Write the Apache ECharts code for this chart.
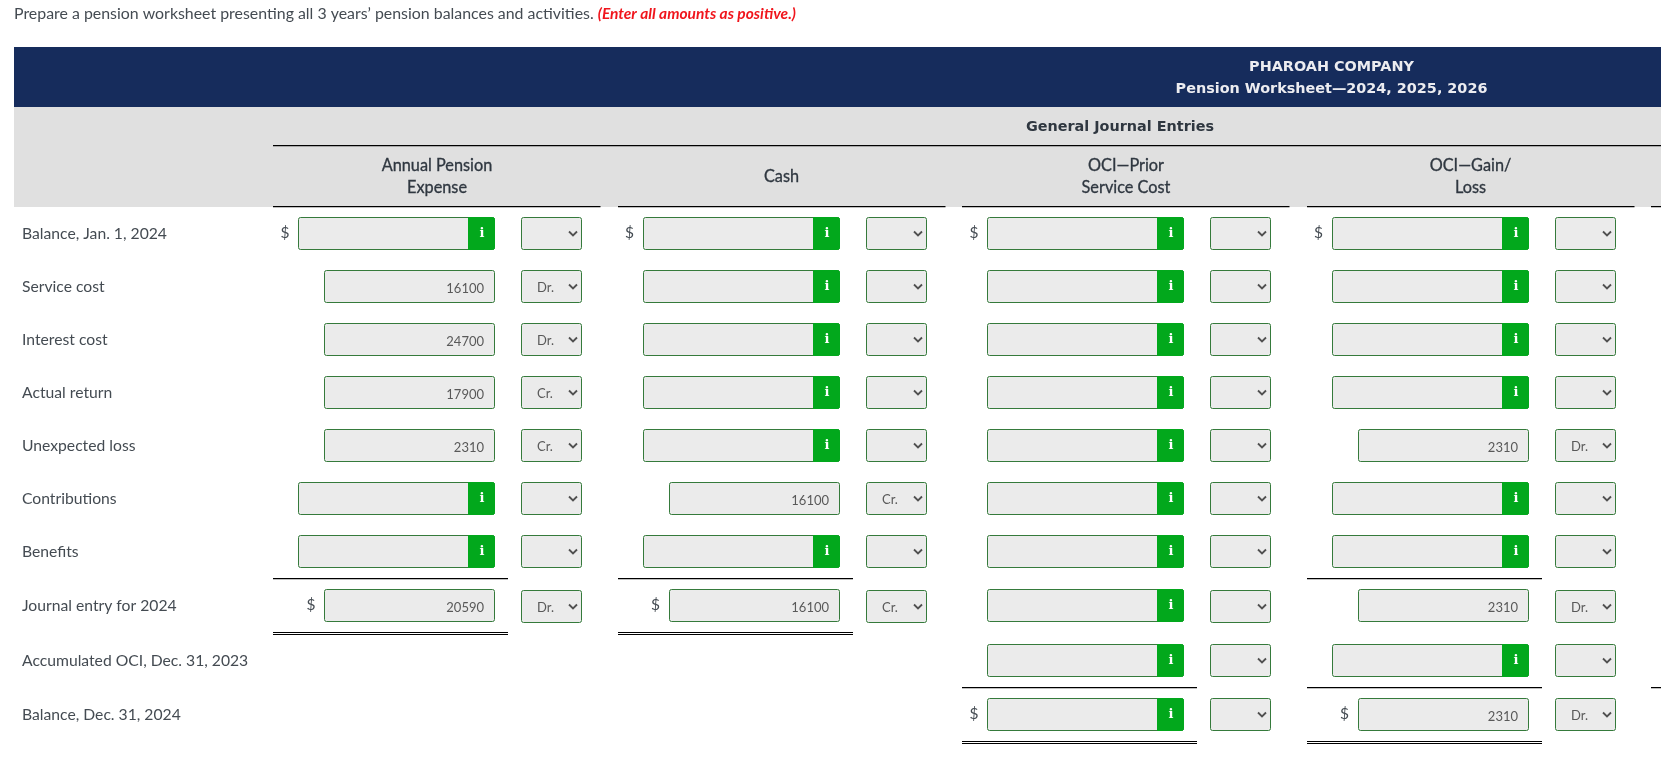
<!DOCTYPE html>
<html lang="en">

<head>
  <meta charset="UTF-8">
  <title>Pension Worksheet</title>
  <script src="https://cdn.jsdelivr.net/npm/echarts@6/dist/echarts.min.js"></script>
  <style>
    html, body { margin: 0; padding: 0; background: #fff; }
    #main { width: 1661px; height: 760px; }
  </style>
</head>

<body>

  <div id="main"></div>

  <script>
    // worksheet content
    var NA = '-' // no box at all in that cell
    var rowNames = ['Balance, Jan. 1, 2024', 'Service cost', 'Interest cost', 'Actual return', 'Unexpected loss',
      'Contributions', 'Benefits', 'Journal entry for 2024', 'Accumulated OCI, Dec. 31, 2023', 'Balance, Dec. 31, 2024']
    var columnNames = ['Annual Pension\nExpense', 'Cash', 'OCI\u2014Prior\nService Cost', 'OCI\u2014Gain/\nLoss']

    var expenseValues = [null, 16100, 24700, 17900, 2310, null, null, 20590, NA, NA]
    var expenseSides = ['', 'Dr.', 'Dr.', 'Cr.', 'Cr.', '', '', 'Dr.', NA, NA]
    var cashValues = [null, null, null, null, null, 16100, null, 16100, NA, NA]
    var cashSides = ['', '', '', '', '', 'Cr.', '', 'Cr.', NA, NA]
    var priorValues = [null, null, null, null, null, null, null, null, null, null]
    var priorSides = ['', '', '', '', '', '', '', '', '', '']
    var gainValues = [null, null, null, null, 2310, null, null, 2310, null, 2310]
    var gainSides = ['', '', '', '', 'Dr.', '', '', 'Dr.', '', 'Dr.']

    // [column, row]
    var dollarCells = [[0, 0], [1, 0], [2, 0], [3, 0], [0, 7], [1, 7], [2, 9], [3, 9]]
    var singleRules = [[0, 6], [1, 6], [3, 6], [2, 8], [3, 8], [4, 8]]
    var doubleRules = [[0, 7], [1, 7], [2, 9], [3, 9]]

    // layout on the axes, the axes run 1:1 with the page
    var rowCenters = [233.5, 286.5, 339.5, 392.5, 445.5, 498.5, 551.5, 605.5, 660.5, 714.5]
    var columnLefts = [265, 609.5, 954, 1298.5, 1643]
    var headerCenters = [437, 781.5, 1126, 1470.5]

    var textFont = 'Lato'
    var boldFont = 'DejaVu Sans'
    var boxBorder = '#357a3b'
    var boxFill = '#ebebeb'
    var green = '#02a81c'

    var allValues = [expenseValues, cashValues, priorValues, gainValues]
    var allSides = [expenseSides, cashSides, priorSides, gainSides]

    var cells = []
    allValues.forEach(function (values, col) {
      values.forEach(function (value, row) {
        if (value !== NA) cells.push({ col: col, row: row, value: value, side: allSides[col][row] })
      })
    })

    // crisp 1px borders
    function snap(v) {
      return Math.floor(v) + 0.5
    }

    function renderCell(params, api) {
      var cell = cells[params.dataIndex]
      var p = api.coord([columnLefts[cell.col], rowCenters[cell.row]])
      var empty = cell.value === null
      var left = snap(p[0] + (empty ? 33.5 : 59.5))
      var right = snap(p[0] + 229.5)
      var top = snap(p[1] - 16)
      var h = 32
      var selLeft = snap(p[0] + 256.5)
      var selTop = cell.row === 7 ? top + 1 : top
      var chevX = selLeft + 51.5
      var chevY = selTop + 16
      var kids = [{
        type: 'rect',
        shape: { x: left, y: top, width: right - left, height: h, r: 2 },
        style: { fill: boxFill, stroke: boxBorder, lineWidth: 1 }
      }]
      if (empty) {
        kids.push({
          type: 'rect',
          shape: { x: right - 26, y: top, width: 26, height: h, r: [0, 2, 2, 0] },
          style: { fill: green, stroke: green, lineWidth: 1 }
        }, {
          type: 'text',
          style: { text: 'i', x: right - 12.5, y: p[1], align: 'center', verticalAlign: 'middle', fill: '#fff', font: 'bold 13px "DejaVu Serif"' }
        })
      } else {
        kids.push({
          type: 'text',
          style: { text: String(cell.value), x: right - 10.5, y: p[1] + 2, align: 'right', verticalAlign: 'middle', fill: '#595959', font: '13px ' + textFont }
        })
      }
      kids.push({
        type: 'rect',
        shape: { x: selLeft, y: selTop, width: 60, height: h, r: 2 },
        style: { fill: boxFill, stroke: boxBorder, lineWidth: 1 }
      }, {
        type: 'polyline',
        shape: { points: [[chevX - 4, chevY - 2], [chevX, chevY + 2], [chevX + 4, chevY - 2]] },
        style: { fill: 'none', stroke: '#505050', lineWidth: 1.8 }
      })
      if (cell.side) {
        kids.push({
          type: 'text',
          style: { text: cell.side, x: selLeft + 15.5, y: selTop + 17.5, align: 'left', verticalAlign: 'middle', fill: '#595959', font: '13px ' + textFont }
        })
      }
      return { type: 'group', children: kids }
    }

    function renderDollar(params, api) {
      var c = dollarCells[params.dataIndex]
      var filled = allValues[c[0]][c[1]] !== null
      var p = api.coord([columnLefts[c[0]], rowCenters[c[1]]])
      return {
        type: 'text',
        style: { text: '$', x: p[0] + (filled ? 46 : 20), y: p[1] - 1, align: 'center', verticalAlign: 'middle', fill: '#444b52', font: '15.5px ' + textFont }
      }
    }

    function ruleLine(x, y, width, height) {
      return { type: 'rect', shape: { x: Math.round(x), y: Math.round(y), width: width, height: height || 1 }, style: { fill: '#000' } }
    }

    function renderRule(params, api) {
      var c = singleRules[params.dataIndex]
      var p = api.coord([columnLefts[c[0]], rowCenters[c[1]]])
      return ruleLine(p[0] + 8, p[1] + 26.5, 235, 1.3)
    }

    function renderDouble(params, api) {
      var c = doubleRules[params.dataIndex]
      var p = api.coord([columnLefts[c[0]], rowCenters[c[1]]])
      return { type: 'group', children: [ruleLine(p[0] + 8, p[1] + 26.5, 235), ruleLine(p[0] + 8, p[1] + 28.5, 235)] }
    }

    function renderHeadRule(params, api) {
      var p = api.coord([columnLefts[params.dataIndex], 206])
      return ruleLine(p[0] + 8, p[1], 327.5, 1.3)
    }

    var myChart = echarts.init(document.getElementById('main'))

    myChart.setOption({
      animation: false,
      backgroundColor: '#fff',
      title: [
        {
          left: 14, top: 6, padding: 0,
          text: '{a|Prepare a pension worksheet presenting all 3 years\u2019 pension balances and activities. }{b|(Enter all amounts as positive.)}',
          textStyle: {
            rich: {
              a: { fontFamily: textFont, fontSize: 15.9, color: '#444b52', fontWeight: 'normal' },
              b: { fontFamily: textFont, fontSize: 15.5, color: '#f0151c', fontWeight: 'bold', fontStyle: 'italic' }
            }
          }
        },
        { left: 1331.5, top: 60, padding: 0, textAlign: 'center', text: 'PHAROAH COMPANY', textStyle: { fontFamily: boldFont, fontSize: 14.4, fontWeight: 'bold', color: '#ececf0' } },
        { left: 1331.5, top: 82, padding: 0, textAlign: 'center', text: 'Pension Worksheet\u20142024, 2025, 2026', textStyle: { fontFamily: boldFont, fontSize: 14.4, fontWeight: 'bold', color: '#ececf0' } },
        { left: 1120, top: 120, padding: 0, textAlign: 'center', text: 'General Journal Entries', textStyle: { fontFamily: boldFont, fontSize: 14.4, fontWeight: 'bold', color: '#2f3740' } }
      ],
      graphic: [
        { type: 'rect', z: -10, shape: { x: 14, y: 47, width: 1647, height: 60 }, style: { fill: '#162c5c' } },
        { type: 'rect', z: -10, shape: { x: 14, y: 107, width: 1647, height: 100 }, style: { fill: '#e0e0e0' } },
        { type: 'rect', z: -9, shape: { x: 273, y: 145, width: 1388, height: 1.3 }, style: { fill: '#000' } }
      ],
      grid: { left: 0, top: 206, width: 1661, height: 554 },
      xAxis: {
        type: 'value', position: 'top', min: 0, max: 1661, z: 10,
        axisLine: { show: false }, axisTick: { show: false }, splitLine: { show: false },
        axisLabel: {
          customValues: headerCenters,
          margin: 8,
          fontFamily: textFont, fontSize: 16.3, lineHeight: 21.5, color: '#2f3740',
          textBorderColor: '#2f3740', textBorderWidth: 0.3,
          rich: {
            one: { fontFamily: textFont, fontSize: 16.3, lineHeight: 43, color: '#2f3740', textBorderColor: '#2f3740', textBorderWidth: 0.3 }
          },
          formatter: function (v) {
            var name = columnNames[headerCenters.indexOf(v)]
            return name.indexOf('\n') < 0 ? '{one|' + name + '}' : name
          }
        }
      },
      yAxis: {
        type: 'value', inverse: true, min: 206, max: 760, z: 10,
        axisLine: { show: false }, axisTick: { show: false }, splitLine: { show: false },
        axisLabel: {
          customValues: rowCenters,
          inside: true, margin: 22, align: 'left', padding: [5, 0, 0, 0],
          fontFamily: textFont, fontSize: 15.7, color: '#444b52',
          formatter: function (v) { return rowNames[rowCenters.indexOf(v)] }
        }
      },
      series: [
        { type: 'custom', name: 'cells', clip: false, silent: true, data: cells.map(function (c) { return [c.col, c.row] }), renderItem: renderCell },
        { type: 'custom', name: 'dollars', clip: false, silent: true, data: dollarCells, renderItem: renderDollar },
        { type: 'custom', name: 'rules', clip: false, silent: true, data: singleRules, renderItem: renderRule },
        { type: 'custom', name: 'totals', clip: false, silent: true, data: doubleRules, renderItem: renderDouble },
        { type: 'custom', name: 'headRules', clip: false, silent: true, data: columnLefts.map(function (x, i) { return [i, 0] }), renderItem: renderHeadRule }
      ]
    })
  </script>

</body>

</html>
